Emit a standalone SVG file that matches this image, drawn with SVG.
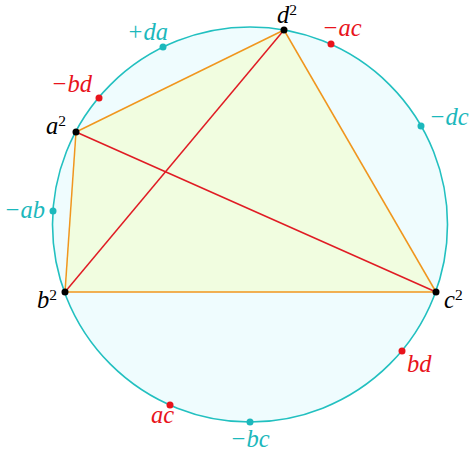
<svg xmlns="http://www.w3.org/2000/svg" width="474" height="452" viewBox="0 0 474 452">
<style>
.cy{fill:#1cb8bc}
.rd{fill:#e8141c}
.bk{fill:#000}
.edge{stroke:#f0961e;stroke-width:1.5;fill:none}
.diag{stroke:#e01c24;stroke-width:1.5;fill:none}
</style>
<rect width="474" height="452" fill="#fff"/>
<g id="circle">
<circle cx="250" cy="224.5" r="197.5" fill="#effcfe" stroke="#22c0c0" stroke-width="1.6"/>
</g>
<g id="quad">
<polygon points="76,132 284,30 436,292 65,292" fill="#f1fde0" stroke="none"/>
</g>
<g id="connectors">
<line class="edge" x1="76" y1="132" x2="284" y2="30"/>
<line class="edge" x1="284" y1="30" x2="436" y2="292"/>
<line class="edge" x1="436" y1="292" x2="65" y2="292"/>
<line class="edge" x1="65" y1="292" x2="76" y2="132"/>
<line class="diag" x1="76" y1="132" x2="436" y2="292"/>
<line class="diag" x1="65" y1="292" x2="284" y2="30"/>
</g>
<g font-family="Liberation Serif, Times New Roman, serif" font-style="italic" font-size="24.5">
<g id="a2"><circle cx="76" cy="132" r="3.5" class="bk"/><text x="46" y="134" class="bk">a<tspan font-style="normal" font-size="15.5" dy="-8">2</tspan></text></g>
<g id="d2"><circle cx="284" cy="30" r="3.5" class="bk"/><text x="277" y="23" class="bk">d<tspan font-style="normal" font-size="15.5" dy="-8">2</tspan></text></g>
<g id="b2"><circle cx="65" cy="292" r="3.5" class="bk"/><text x="37" y="308" class="bk">b<tspan font-style="normal" font-size="15.5" dy="-8">2</tspan></text></g>
<g id="c2"><circle cx="436" cy="292" r="3.5" class="bk"/><text x="444" y="308" class="bk">c<tspan font-style="normal" font-size="15.5" dy="-8">2</tspan></text></g>
<g id="da"><circle cx="163" cy="47" r="3.5" class="cy"/><text x="127" y="40" class="cy">+da</text></g>
<g id="bd-neg"><circle cx="99" cy="98" r="3.5" class="rd"/><text x="51" y="92" class="rd">−bd</text></g>
<g id="ab"><circle cx="53" cy="211" r="3.5" class="cy"/><text x="4" y="218" class="cy">−ab</text></g>
<g id="ac-neg"><circle cx="331" cy="44" r="3.5" class="rd"/><text x="322" y="36" class="rd">−ac</text></g>
<g id="dc"><circle cx="421" cy="126" r="3.5" class="cy"/><text x="429" y="125" class="cy">−dc</text></g>
<g id="ac"><circle cx="170" cy="405" r="3.5" class="rd"/><text x="151" y="423" class="rd">ac</text></g>
<g id="bd"><circle cx="402" cy="351" r="3.5" class="rd"/><text x="407" y="372" class="rd">bd</text></g>
<g id="bc"><circle cx="250" cy="422" r="3.5" class="cy"/><text x="230" y="447" class="cy">−bc</text></g>
</g>
</svg>
